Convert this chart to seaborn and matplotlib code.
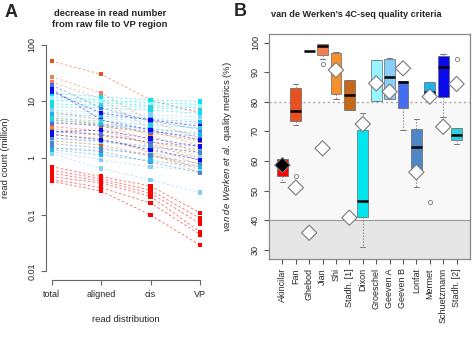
import numpy as np
import pandas as pd
import seaborn as sns
import matplotlib.pyplot as plt

# ---------------- data ----------------
stages = ["total", "aligned", "cis", "VP"]

datasets = ["Akincilar", "Fan", "Ghebod", "Jian", "Shi", "Stadh. [1]", "Dixon",
            "Groeschel", "Geeven A", "Geeven B", "Lonfat", "Mermet",
            "Schuetzmann", "Stadh. [2]"]
ds_colors = ["#FF0000", "#E8501E", "#000000", "#F08050", "#F5902E", "#C8681A",
             "#00E5EE", "#98F5FF", "#87CEFA", "#436EEE", "#4F86C6", "#1EB4EE",
             "#0A0AEE", "#2ED0E0"]

# panel A: read counts (million) per library
lib_dataset = (["Akincilar"] * 6 + ["Fan"] * 2 + ["Jian"] * 4 + ["Shi"] * 3 +
               ["Stadh. [1]"] * 3 + ["Dixon"] * 4 + ["Groeschel"] * 2 +
               ["Geeven A"] * 7 + ["Geeven B"] * 3 + ["Lonfat"] * 3 +
               ["Mermet"] * 3 + ["Schuetzmann"] * 4 + ["Stadh. [2]"] * 2)
total_reads = [0.70, 0.61, 0.54, 0.47, 0.42, 0.39,
               51, 3.6,
               27, 22, 4.8, 3.3,
               6.5, 5.2, 2.6,
               4.4, 3.0, 2.0,
               13.8, 12.0, 10.5, 8.0,
               11.5, 6.5,
               7.0, 5.5, 4.2, 2.2, 1.5, 1.3, 1.2,
               19.4, 4.1, 2.9,
               2.25, 1.8, 1.5,
               6.0, 4.7, 1.4,
               14.7, 16.5, 2.9, 2.6,
               9.0, 5.0]
aligned_reads = [0.47, 0.43, 0.39, 0.36, 0.30, 0.26,
                 30, 3.0,
                 14, 11, 3.8, 2.6,
                 4.7, 4.1, 2.2,
                 3.6, 2.5, 1.7,
                 12.0, 10.5, 9.5, 7.6,
                 10.0, 6.0,
                 6.5, 5.0, 3.8, 1.9, 1.4, 0.92, 0.65,
                 7.6, 3.8, 2.6,
                 2.0, 1.5, 1.3,
                 5.5, 4.0, 1.13,
                 6.2, 4.7, 3.1, 2.1,
                 8.5, 4.5]
cis_reads = [0.32, 0.27, 0.24, 0.21, 0.16, 0.099,
             10.5, 1.8,
             4.5, 3.2, 1.6, 1.2,
             2.5, 2.0, 1.3,
             2.8, 1.9, 1.1,
             10.5, 9.5, 8.4, 7.0,
             9.0, 5.3,
             5.8, 4.4, 3.2, 1.5, 1.2, 0.7, 0.41,
             4.5, 2.9, 1.9,
             1.6, 1.1, 0.85,
             4.8, 3.3, 0.9,
             4.7, 3.1, 2.2, 1.4,
             7.8, 3.8]
vp_reads = [0.108, 0.086, 0.070, 0.050, 0.045, 0.029,
            6.2, 0.9,
            2.2, 1.6, 0.75, 0.55,
            1.2, 1.0, 0.62,
            2.0, 1.4, 0.7,
            10.0, 8.8, 7.6, 6.1,
            8.2, 4.6,
            5.3, 4.0, 2.8, 1.3, 1.05, 0.6, 0.245,
            3.2, 2.4, 1.6,
            1.25, 0.8, 0.55,
            4.3, 2.6, 0.7,
            3.6, 2.1, 1.6, 0.92,
            7.0, 3.4]

# panel B: quality metric boxes (%) and van de Werken score per dataset
box_q1 = [55.0, 73.4, 97.4, 95.9, 82.7, 77.3, 41.1, 80.4, 80.9, 78.1, 57.0, 82.4, 81.8, 67.1]
box_med = [58.6, 76.9, 97.4, 99.1, 90.8, 82.4, 46.5, 86.3, 88.6, 86.7, 64.8, 83.5, 92.0, 68.8]
box_q3 = [60.7, 84.6, 97.4, 99.7, 96.5, 87.5, 70.5, 94.2, 94.6, 87.0, 70.7, 86.7, 95.4, 71.1]
whisker_lo = [52.8, 72.2, 97.4, 94.4, 80.9, 77.3, 31.0, 80.4, 80.9, 70.5, 51.3, 82.4, 74.8, 65.8]
whisker_hi = [60.7, 86.0, 97.4, 99.7, 96.8, 87.5, 76.4, 94.2, 95.0, 87.0, 74.1, 86.7, 96.3, 71.1]
outliers = [[], [54.9], [], [92.8], [], [], [], [], [], [], [], [46.2], [], [94.5]]
werken_score = [58.6, 51.0, 35.7, 64.3, 90.8, 40.8, 72.5, 86.3, 83.5, 91.4, 56.2, 81.8, 71.6, 86.1]
score_fill = ["black"] + ["white"] * 13

# ---------------- style ----------------
sns.set_style("ticks")
plt.rcParams['font.family'] = ['Liberation Sans', 'DejaVu Sans']
plt.rcParams['mathtext.fontset'] = 'custom'
plt.rcParams['mathtext.it'] = 'Liberation Sans:italic'
plt.rcParams['mathtext.rm'] = 'Liberation Sans'

fig = plt.figure(figsize=(4.74, 3.51), dpi=100)
axA = fig.add_axes([0.0966, 0.2009, 0.338, 0.698])
axB = fig.add_axes([0.5675, 0.262, 0.424, 0.641])

palette = dict(zip(datasets, ds_colors))

#--------------------------------------------------------
# Panel A
#--------------------------------------------------------
n_lib = len(lib_dataset)
dfA = pd.DataFrame({
    "lib": np.repeat(np.arange(n_lib), len(stages)),
    "dataset": np.repeat(lib_dataset, len(stages)),
    "pos": np.tile(np.arange(len(stages)), n_lib),
    "reads": np.column_stack([total_reads, aligned_reads, cis_reads, vp_reads]).ravel(),
})

sns.lineplot(data=dfA, x="pos", y="reads", hue="dataset", units="lib", estimator=None,
             palette=palette, sort=False, legend=False, lw=0.6, alpha=0.6,
             linestyle=(0, (3, 2.5)), ax=axA)
sns.scatterplot(data=dfA, x="pos", y="reads", hue="dataset", palette=palette,
                marker="s", s=10, linewidth=0, legend=False, ax=axA, zorder=3)

axA.set_yscale("log")
axA.set_xlim(-0.12, 3.12)
axA.set_ylim(10 ** -2.16, 10 ** 2.16)
axA.set_yticks([0.01, 0.1, 1, 10, 100])
axA.set_yticklabels(["0.01", "0.1", "1", "10", "100"], rotation=90, va="center")
axA.yaxis.set_minor_locator(plt.NullLocator())
axA.set_xticks(np.arange(len(stages)))
axA.set_xticklabels(stages)
sns.despine(ax=axA)
axA.spines["left"].set_bounds(0.01, 100)
axA.spines["bottom"].set_bounds(0, 3)
for s in ["left", "bottom"]:
    axA.spines[s].set_color("#666666")
    axA.spines[s].set_linewidth(0.8)
axA.tick_params(length=3.5, width=0.8, color="#666666", labelsize=6.5, pad=3)
axA.set_xlabel("read distribution", fontsize=6.8)
axA.xaxis.set_label_coords(0.5, -0.14)
axA.set_ylabel("read count (million)", fontsize=6.8)
axA.yaxis.set_label_coords(-0.225, 0.5)

#--------------------------------------------------------
# Panel B
#--------------------------------------------------------
ylo, yhi = 26.8, 103.0
axB.axhspan(ylo, 40, color="#E6E6E6", zorder=0, lw=0)
axB.axhspan(40, 80, color="#F8F8F8", zorder=0, lw=0)
axB.axhline(40, color="#999999", lw=0.8, zorder=1)
axB.axhline(80, color="#AAAAAA", lw=1.0, ls=(0, (1.5, 2)), zorder=1)

stats = []
for i in range(len(datasets)):
    stats.append(dict(med=box_med[i], q1=box_q1[i], q3=box_q3[i],
                      whislo=whisker_lo[i], whishi=whisker_hi[i],
                      fliers=outliers[i]))
bp = axB.bxp(stats, positions=np.arange(len(datasets)), widths=0.8,
             patch_artist=True, manage_ticks=False,
             boxprops=dict(edgecolor="#666666", linewidth=0.5),
             whiskerprops=dict(color="#888888", linewidth=0.8, linestyle=(0, (1.2, 1.5))),
             capprops=dict(color="#777777", linewidth=0.7),
             medianprops=dict(color="black", linewidth=1.8),
             flierprops=dict(marker="o", markerfacecolor="none",
                             markeredgecolor="#777777", markersize=3, markeredgewidth=0.6))
for patch, c in zip(bp["boxes"], ds_colors):
    patch.set_facecolor(c)
    patch.set_zorder(2)

dfB = pd.DataFrame({"pos": np.arange(len(datasets)), "score": werken_score,
                    "fill": score_fill})
sns.scatterplot(data=dfB, x="pos", y="score", hue="fill",
                palette={"white": "white", "black": "black"}, marker="D", s=60,
                edgecolor="#7A7A7A", linewidth=0.8, legend=False, ax=axB, zorder=5)

axB.set_xlim(-1, 14)
axB.set_ylim(ylo, yhi)
axB.set_xticks(np.arange(len(datasets)))
axB.set_xticklabels(datasets, rotation=90)
axB.set_yticks([30, 40, 50, 60, 70, 80, 90, 100])
axB.set_yticklabels(["30", "40", "50", "60", "70", "80", "90", "100"], rotation=90, va="center")
for s in axB.spines.values():
    s.set_color("#888888")
    s.set_linewidth(0.9)
axB.tick_params(length=3.5, width=0.8, color="#555555", labelsize=6.5, pad=3)
axB.set_xlabel("")
axB.set_ylabel(r"$\it{van\ de\ Werken\ et\ al.}$ quality metrics (%)", fontsize=6.8)
axB.yaxis.set_label_coords(-0.174, 0.5)

#--------------------------------------------------------
# titles and panel letters
#--------------------------------------------------------
fig.text(0.232, 0.946, "decrease in read number\nfrom raw file to VP region",
         ha="center", va="center", fontsize=6.8, fontweight="bold", linespacing=1.3)
fig.text(0.7525, 0.96, "van de Werken's 4C-seq quality criteria",
         ha="center", va="center", fontsize=6.6, fontweight="bold")
fig.text(0.023, 0.963, "A", ha="center", va="center", fontsize=13, fontweight="bold")
fig.text(0.506, 0.966, "B", ha="center", va="center", fontsize=13, fontweight="bold")

plt.savefig("out.png", dpi=100)
